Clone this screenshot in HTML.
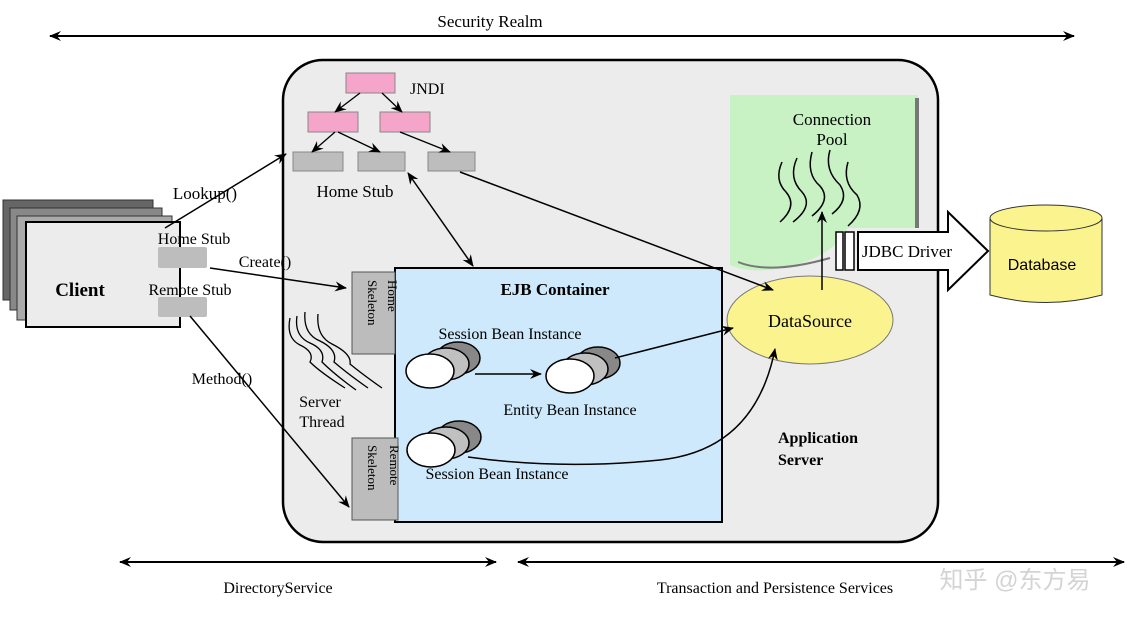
<!DOCTYPE html>
<html><head><meta charset="utf-8"><style>
html,body{margin:0;padding:0;background:#fff;}
svg{display:block;font-family:"Liberation Serif",serif;}
</style></head><body>
<svg width="1128" height="624" viewBox="0 0 1128 624" xmlns="http://www.w3.org/2000/svg">
<defs>
<marker id="a" markerWidth="12" markerHeight="10" refX="11" refY="5" orient="auto" markerUnits="userSpaceOnUse">
<path d="M0,0 L12,5 L0,10 L4,5 Z" fill="#000"/></marker>
<marker id="s" markerWidth="12" markerHeight="10" refX="1" refY="5" orient="auto" markerUnits="userSpaceOnUse">
<path d="M12,0 L0,5 L12,10 L8,5 Z" fill="#000"/></marker>
</defs>
<rect width="1128" height="624" fill="#fff"/>
<text x="490" y="27" font-size="17" text-anchor="middle">Security Realm</text>
<line x1="50" y1="36" x2="1074" y2="36" stroke="#000" stroke-width="2" marker-start="url(#s)" marker-end="url(#a)"/>
<rect x="283" y="60" width="655" height="482" rx="40" fill="#ececec" stroke="#000" stroke-width="2.5"/>
<path d="M730,95 L918,95 L918,228 L848,228 Q830,262 770,270 Q745,272 730,265 Z" fill="#c8f2c4"/>
<line x1="917" y1="98" x2="917" y2="228" stroke="#777" stroke-width="4"/>
<path d="M738,262 Q770,275 830,258" stroke="#777" stroke-width="2" fill="none"/>
<text x="832" y="125" font-size="17" text-anchor="middle">Connection</text>
<text x="832" y="145" font-size="17" text-anchor="middle">Pool</text>
<g stroke="#000" stroke-width="1.5" fill="none">
<path d="M782,162 Q774,180 786,192 Q798,206 780,222"/>
<path d="M797,158 Q788,178 802,192 Q814,206 793,222"/>
<path d="M812,152 Q806,174 820,186 Q832,200 812,216"/>
<path d="M830,150 Q824,170 840,185 Q850,200 832,214"/>
<path d="M848,162 Q842,182 857,195 Q866,210 848,226"/>
</g>
<rect x="836" y="232" width="7" height="38" fill="#fff" stroke="#000" stroke-width="1.5"/>
<rect x="845" y="232" width="9" height="38" fill="#fff" stroke="#000" stroke-width="1.5"/>
<path d="M858,232 L948,232 L948,212 L988,251 L948,290 L948,270 L858,270 Z" fill="#fff" stroke="#000" stroke-width="2"/>
<text x="907" y="257" font-size="17" text-anchor="middle">JDBC Driver</text>
<path d="M990,218 L990,295 Q1046,310 1102,295 L1102,218" fill="#fbf38d" stroke="#333" stroke-width="1"/>
<ellipse cx="1046" cy="218" rx="56" ry="13" fill="#fbf38d" stroke="#333" stroke-width="1"/>
<text x="1042" y="270" font-size="16" font-family="Liberation Sans,sans-serif" text-anchor="middle">Database</text>
<rect x="395" y="268" width="327" height="254" fill="#cde9fb" stroke="#000" stroke-width="2"/>
<text x="555" y="295" font-size="17" font-weight="bold" text-anchor="middle">EJB Container</text>
<rect x="352" y="272" width="43" height="82" fill="#bcbcbc" stroke="#555" stroke-width="1"/>
<rect x="352" y="438" width="46" height="82" fill="#bcbcbc" stroke="#555" stroke-width="1"/>
<text transform="translate(388,280) rotate(90)" font-size="13">Home</text>
<text transform="translate(368,280) rotate(90)" font-size="13">Skeleton</text>
<text transform="translate(390,445) rotate(90)" font-size="13">Remote</text>
<text transform="translate(368,445) rotate(90)" font-size="13">Skeleton</text>
<g stroke="#000" stroke-width="1.3" fill="none">
<path d="M290,318 Q286,338 300,345 Q315,352 310,362 Q320,372 345,388"/>
<path d="M297,316 Q294,336 310,343 Q326,350 322,362 Q334,374 356,390"/>
<path d="M305,312 Q303,334 320,341 Q338,350 334,362 Q348,374 368,388"/>
<path d="M318,314 Q316,336 332,344 Q352,354 350,364 Q362,374 382,388"/>
</g>
<text x="320" y="407" font-size="16" text-anchor="middle">Server</text>
<text x="322" y="427" font-size="16" text-anchor="middle">Thread</text>
<g stroke="#000" stroke-width="1.5">
<ellipse cx="458" cy="358" rx="22" ry="16" fill="#888"/>
<ellipse cx="446" cy="364" rx="23" ry="16" fill="#c0c0c0"/>
<ellipse cx="430" cy="371" rx="24" ry="17" fill="#fff"/>
<ellipse cx="598" cy="363" rx="22" ry="16" fill="#888"/>
<ellipse cx="585" cy="369" rx="23" ry="16" fill="#c0c0c0"/>
<ellipse cx="570" cy="376" rx="24" ry="17" fill="#fff"/>
<ellipse cx="459" cy="437" rx="22" ry="16" fill="#888"/>
<ellipse cx="446" cy="443" rx="23" ry="16" fill="#c0c0c0"/>
<ellipse cx="431" cy="450" rx="24" ry="17" fill="#fff"/>
</g>
<text x="510" y="339" font-size="16" text-anchor="middle">Session Bean Instance</text>
<text x="570" y="415" font-size="16" text-anchor="middle">Entity Bean Instance</text>
<text x="497" y="479" font-size="16" text-anchor="middle">Session Bean Instance</text>
<ellipse cx="810" cy="320" rx="83" ry="44" fill="#fbf38d" stroke="#777" stroke-width="1"/>
<text x="810" y="327" font-size="18" text-anchor="middle">DataSource</text>
<text x="778" y="443" font-size="16" font-weight="bold">Application</text>
<text x="778" y="465" font-size="16" font-weight="bold">Server</text>
<g fill="#f5a5c9" stroke="#888" stroke-width="1">
<rect x="346" y="73" width="49" height="20"/>
<rect x="308" y="112" width="50" height="20"/>
<rect x="380" y="112" width="50" height="20"/>
</g>
<g fill="#bdbdbd" stroke="#888" stroke-width="1">
<rect x="293" y="152" width="50" height="19"/>
<rect x="358" y="152" width="47" height="19"/>
<rect x="428" y="152" width="47" height="19"/>
</g>
<text x="410" y="94" font-size="16">JNDI</text>
<text x="355" y="197" font-size="17" text-anchor="middle">Home Stub</text>
<g stroke="#000" stroke-width="1.3" fill="none">
<line x1="360" y1="93" x2="335" y2="112" marker-end="url(#a)"/>
<line x1="382" y1="93" x2="402" y2="112" marker-end="url(#a)"/>
<line x1="335" y1="132" x2="312" y2="152" marker-end="url(#a)"/>
<line x1="338" y1="132" x2="380" y2="152" marker-end="url(#a)"/>
<line x1="400" y1="132" x2="450" y2="152" marker-end="url(#a)"/>
</g>
<rect x="3" y="200" width="150" height="100" fill="#666" stroke="#333"/>
<rect x="10" y="208" width="152" height="102" fill="#888" stroke="#333"/>
<rect x="17" y="216" width="155" height="104" fill="#aaa" stroke="#333"/>
<rect x="26" y="222" width="154" height="105" fill="#ececec" stroke="#000" stroke-width="2"/>
<text x="80" y="296" font-size="19" font-weight="bold" text-anchor="middle">Client</text>
<rect x="158" y="247" width="49" height="21" fill="#bdbdbd" rx="2"/>
<rect x="158" y="297" width="49" height="20" fill="#bdbdbd" rx="2"/>
<text x="194" y="244" font-size="16" text-anchor="middle">Home Stub</text>
<text x="190" y="295" font-size="16" text-anchor="middle">Remote Stub</text>
<text x="205" y="199" font-size="17" text-anchor="middle">Lookup()</text>
<text x="265" y="267" font-size="16" text-anchor="middle">Create()</text>
<text x="222" y="384" font-size="16" text-anchor="middle">Method()</text>
<g stroke="#000" stroke-width="1.5" fill="none">
<line x1="165" y1="228" x2="286" y2="154" marker-end="url(#a)"/>
<line x1="210" y1="268" x2="346" y2="288" marker-end="url(#a)"/>
<line x1="190" y1="316" x2="349" y2="507" marker-end="url(#a)"/>
<line x1="408" y1="173" x2="473" y2="266" marker-start="url(#s)" marker-end="url(#a)"/>
<line x1="460" y1="172" x2="773" y2="290" marker-end="url(#a)"/>
<line x1="475" y1="374" x2="541" y2="374" marker-end="url(#a)"/>
<line x1="615" y1="358" x2="733" y2="328" marker-end="url(#a)"/>
<path d="M468,457 Q560,470 660,460 Q755,450 775,349" marker-end="url(#a)"/>
<line x1="822" y1="290" x2="822" y2="212" marker-end="url(#a)"/>
</g>
<line x1="120" y1="562" x2="496" y2="562" stroke="#000" stroke-width="2" marker-start="url(#s)" marker-end="url(#a)"/>
<line x1="518" y1="562" x2="1124" y2="562" stroke="#000" stroke-width="2" marker-start="url(#s)" marker-end="url(#a)"/>
<text x="278" y="593" font-size="16" text-anchor="middle">DirectoryService</text>
<text x="775" y="593" font-size="16" text-anchor="middle">Transaction and Persistence Services</text>
<text x="1015" y="588" font-size="24" fill="#d4d4d4" font-family="Liberation Sans,'Noto Sans CJK SC',sans-serif" text-anchor="middle">知乎 @东方易</text>
</svg>
</body></html>
